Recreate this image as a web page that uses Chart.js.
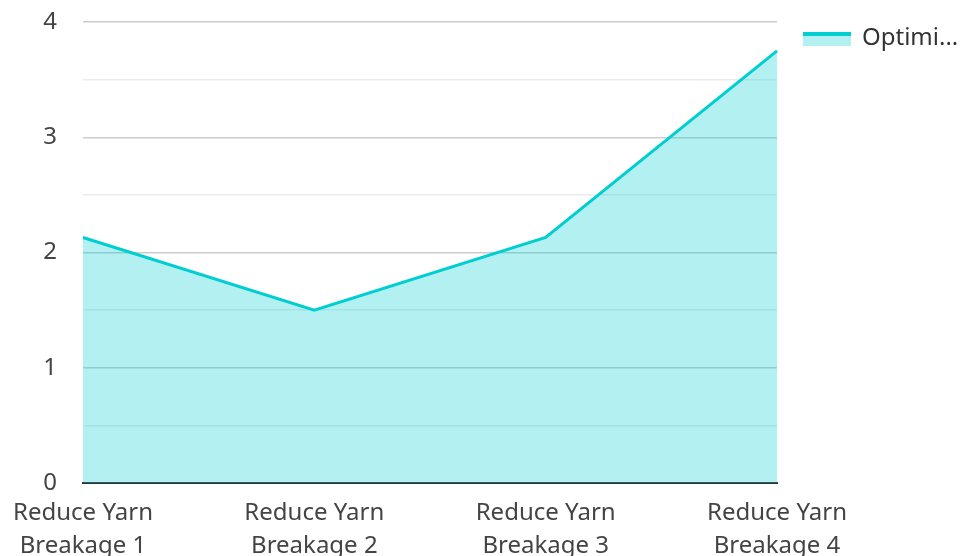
<!DOCTYPE html>
<html>
<head>
<meta charset="utf-8">
<script src="https://cdn.jsdelivr.net/npm/chart.js@4"></script>
<style>
  html, body { margin: 0; padding: 0; background: #fff; }
  #wrap { width: 960px; height: 556px; }
</style>
</head>
<body>
<div id="wrap"><canvas id="areaChart"></canvas></div>
<script>
// ---- data ----
const categories = [
  ["Reduce Yarn", "Breakage 1"],
  ["Reduce Yarn", "Breakage 2"],
  ["Reduce Yarn", "Breakage 3"],
  ["Reduce Yarn", "Breakage 4"]
];
const seriesName = "Optimi...";
const seriesValues = [2.13, 1.5, 2.13, 3.75];
const yTicks = [0, 1, 2, 3, 4];

const LINE = "#00CED1";
const FILL = "rgba(0,206,209,0.3)";
const FONT = "'Noto Sans', 'Open Sans', sans-serif";

// legend drawn by hand: swatch (line on top of fill) + label
const legendPlugin = {
  id: "sideLegend",
  afterDraw(chart) {
    const ctx = chart.ctx;
    const x = chart.chartArea.right + 26, y = 32;
    ctx.save();
    ctx.fillStyle = FILL;
    ctx.fillRect(x, y, 48, 14);
    ctx.fillStyle = LINE;
    ctx.fillRect(x, y, 48, 4);
    ctx.fillStyle = "#333";
    ctx.font = "24px " + FONT;
    ctx.textBaseline = "middle";
    ctx.fillText(chart.data.datasets[0].label, x + 59, y + 6);
    ctx.restore();
  }
};

new Chart(document.getElementById("areaChart"), {
  type: "line",
  data: {
    labels: categories,
    datasets: [{
      label: seriesName,
      data: seriesValues,
      borderColor: LINE,
      backgroundColor: FILL,
      borderWidth: 3,
      fill: "origin",
      tension: 0,
      pointRadius: 0
    }]
  },
  options: {
    responsive: true,
    maintainAspectRatio: false,
    animation: false,
    layout: { padding: { top: 0, right: 183, left: 0, bottom: 0 } },
    scales: {
      x: {
        offset: false,
        grid: { display: false },
        border: { color: "#333", width: 2 },
        ticks: {
          color: "#444",
          font: { family: FONT, size: 24, lineHeight: 1.375 },
          maxRotation: 0,
          padding: 6
        },
        afterFit: (s) => { s.paddingLeft = 83; s.height = 73; }
      },
      y: {
        min: 0,
        max: 4,
        border: { display: false },
        grid: {
          drawTicks: false,
          color: (c) => Number.isInteger(c.tick.value) ? "#cccccc" : "#ebebeb",
          lineWidth: 1.5
        },
        ticks: {
          stepSize: 0.5,
          padding: 26,
          color: "#444",
          font: { family: FONT, size: 24 },
          callback: (v) => yTicks.includes(v) ? String(v) : ""
        },
        afterFit: (s) => { s.paddingTop = 22; s.paddingBottom = 0; }
      }
    },
    plugins: {
      legend: { display: false },
      tooltip: { enabled: false }
    }
  },
  plugins: [legendPlugin]
});
</script>
</body>
</html>
